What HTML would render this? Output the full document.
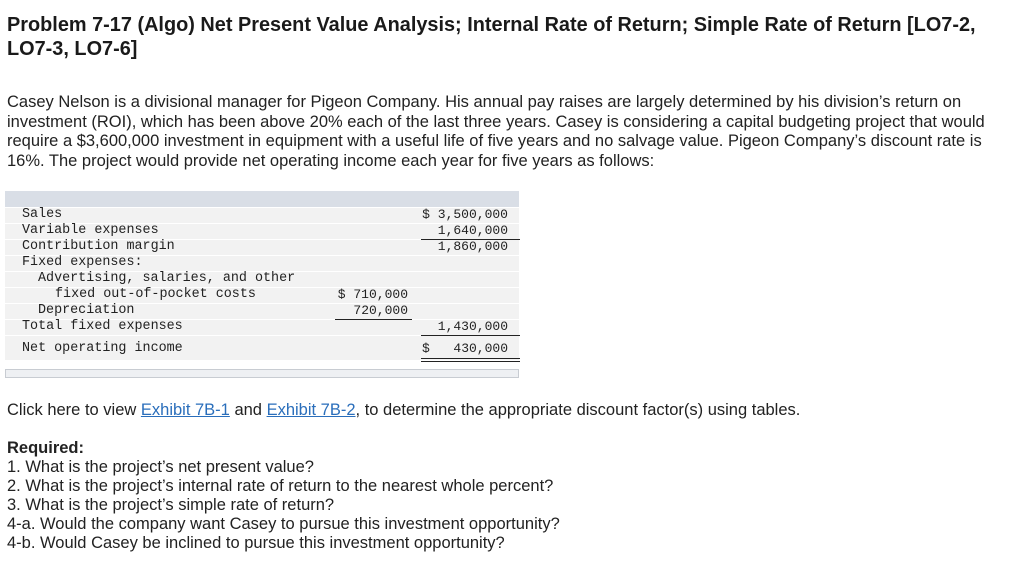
<!DOCTYPE html>
<html><head><meta charset="utf-8">
<style>
body{margin:0;width:1024px;height:565px;background:#fff;position:relative;overflow:hidden;font-family:"Liberation Sans",sans-serif;color:#222;}
.l{position:absolute;white-space:nowrap;}
.t{font-weight:bold;font-size:19.9px;color:#1a1a1a;}
.p{font-size:16.5px;}
.m{position:absolute;white-space:nowrap;font-family:"Liberation Mono",monospace;font-size:13.4px;color:#222;}
.r{position:absolute;white-space:nowrap;font-family:"Liberation Mono",monospace;font-size:13px;color:#222;text-align:right;}
.row{position:absolute;left:5px;width:514px;height:15px;background:#f2f2f2;}
a{color:#2a6ebb;text-decoration:underline;}
.u{position:absolute;height:1px;background:#222;}
</style></head><body>
<div class="l t" style="left:7px;top:14px">Problem 7-17 (Algo) Net Present Value Analysis; Internal Rate of Return; Simple Rate of Return [LO7-2,</div>
<div class="l t" style="left:7px;top:38px">LO7-3, LO7-6]</div>
<div>
<div class="l p" style="left:7px;top:93px">Casey Nelson is a divisional manager for Pigeon Company. His annual pay raises are largely determined by his division’s return on</div>
<div class="l p" style="left:7px;top:113px">investment (ROI), which has been above 20% each of the last three years. Casey is considering a capital budgeting project that would</div>
<div class="l p" style="left:7px;top:132px">require a $3,600,000 investment in equipment with a useful life of five years and no salvage value. Pigeon Company’s discount rate is</div>
<div class="l p" style="left:7px;top:152px">16%. The project would provide net operating income each year for five years as follows:</div>
</div>
<div>
<div style="position:absolute;left:5px;top:191px;width:514px;height:16px;background:#d9dee6"></div>
<div class="row" style="top:208px"></div><div class="row" style="top:224px"></div><div class="row" style="top:240px"></div><div class="row" style="top:256px"></div><div class="row" style="top:272px"></div><div class="row" style="top:288px"></div><div class="row" style="top:304px"></div><div class="row" style="top:320px"></div>
<div class="row" style="top:336px;height:24px"></div>
<div class="m" style="left:22px;top:207px">Sales</div>
<div class="m" style="left:22px;top:223px">Variable expenses</div>
<div class="m" style="left:22px;top:239px">Contribution margin</div>
<div class="m" style="left:22px;top:255px">Fixed expenses:</div>
<div class="m" style="left:38px;top:271px">Advertising, salaries, and other</div>
<div class="m" style="left:55px;top:287px">fixed out-of-pocket costs</div>
<div class="m" style="left:38px;top:303px">Depreciation</div>
<div class="m" style="left:22px;top:319px">Total fixed expenses</div>
<div class="m" style="left:22px;top:341px">Net operating income</div>
<div class="r" style="right:516px;top:207px">$ 3,500,000</div>
<div class="r" style="right:516px;top:223px">1,640,000</div>
<div class="u" style="left:421px;top:239px;width:99px"></div>
<div class="r" style="right:516px;top:239px">1,860,000</div>
<div class="r" style="right:616px;top:287px">$ 710,000</div>
<div class="r" style="right:616px;top:303px">720,000</div>
<div class="u" style="left:335px;top:319px;width:77px"></div>
<div class="r" style="right:516px;top:319px">1,430,000</div>
<div class="u" style="left:421px;top:335px;width:99px"></div>
<div class="m" style="left:422px;top:341px;font-size:13px">$</div>
<div class="r" style="right:516px;top:341px">430,000</div>
<div class="u" style="left:421px;top:358px;width:99px"></div>
<div class="u" style="left:421px;top:361px;width:99px"></div>
<div style="position:absolute;left:5px;top:369px;width:512px;height:7px;background:#eef0f3;border:1px solid #c8ccd2"></div>
</div>
<div class="l p" style="left:7px;top:401px">Click here to view <a>Exhibit 7B-1</a> and <a>Exhibit 7B-2</a>, to determine the appropriate discount factor(s) using tables.</div>
<div>
<div class="l p" style="left:7px;top:439px;font-weight:bold">Required:</div>
<div class="l p" style="left:7px;top:458px">1. What is the project’s net present value?</div>
<div class="l p" style="left:7px;top:477px">2. What is the project’s internal rate of return to the nearest whole percent?</div>
<div class="l p" style="left:7px;top:496px">3. What is the project’s simple rate of return?</div>
<div class="l p" style="left:7px;top:515px">4-a. Would the company want Casey to pursue this investment opportunity?</div>
<div class="l p" style="left:7px;top:534px">4-b. Would Casey be inclined to pursue this investment opportunity?</div>
</div>
</body></html>
